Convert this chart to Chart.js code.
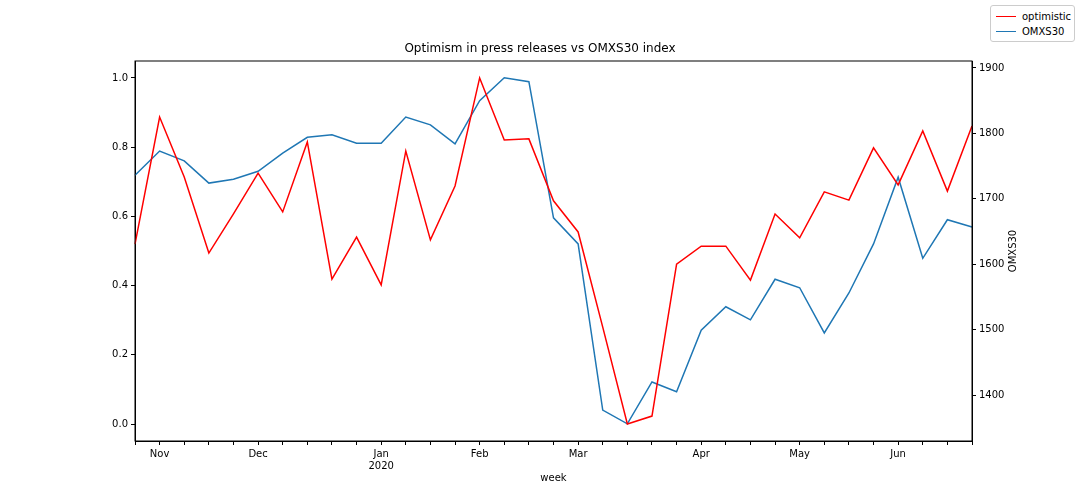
<!DOCTYPE html>
<html>
<head>
<meta charset="utf-8">
<script src="https://cdn.jsdelivr.net/npm/chart.js@4/dist/chart.umd.min.js"></script>
<style>
  body { margin: 0; background: #fff; font-family: "DejaVu Sans", sans-serif; }
  #wrap { position: relative; width: 1080px; height: 504px; }
  #legend { position: absolute; left: 990px; top: 5px; width: 83px; border: 1px solid #ccc; border-radius: 3px;
            background: #fff; font-size: 10px; padding: 3px 0 2px 0; }
  #legend div { display: flex; align-items: center; height: 15px; }
  #legend span.sw { display: inline-block; width: 20px; height: 0; border-top: 1.5px solid; margin: 0 6px 0 5px; }
</style>
</head>
<body>
<div id="wrap">
  <canvas id="chart" width="1080" height="504"></canvas>
  <div id="legend">
    <div><span class="sw" style="border-color:#ff0000"></span>optimistic</div>
    <div><span class="sw" style="border-color:#1f77b4"></span>OMXS30</div>
  </div>
</div>
<script>
// weekly points, month label on the first week of each month
const weeks = ['', 'Nov', '', '', '', 'Dec', '', '', '', '', 'Jan|2020', '', '', '', 'Feb', '', '', '',
    'Mar', '', '', '', '', 'Apr', '', '', '', 'May', '', '', '', 'Jun', '', '', ''];

const optimistic = [0.52, 0.887, 0.714, 0.494, 0.607, 0.725, 0.613, 0.815, 0.419, 0.54, 0.402, 0.789,
    0.532, 0.688, 1.0, 0.821, 0.824, 0.645, 0.555, 0.28, 0.0, 0.023, 0.462, 0.514, 0.514, 0.416,
    0.607, 0.538, 0.671, 0.647, 0.798, 0.691, 0.847, 0.673, 0.861];

const omxs30 = [1736, 1773, 1758, 1724, 1730, 1742, 1770, 1794, 1798, 1785, 1785, 1825, 1813, 1784,
    1850, 1885, 1879, 1671, 1631, 1377, 1356, 1420, 1405, 1499, 1535, 1515, 1577, 1564, 1495, 1556,
    1631, 1733, 1609, 1668, 1657];

const leftTicks = [0, 0.2, 0.4, 0.6, 0.8, 1.0];
const rightTicks = [1400, 1500, 1600, 1700, 1800, 1900];

Chart.defaults.font.family = '"DejaVu Sans", sans-serif';
Chart.defaults.color = '#000';

// top spine + axis titles placed like matplotlib
const frame = {
    id: 'frame',
    afterDraw(chart) {
        const a = chart.chartArea, ctx = chart.ctx;
        ctx.save();
        ctx.strokeStyle = '#000';
        ctx.lineWidth = 1;
        ctx.strokeRect(a.left, a.top, a.right - a.left, a.bottom - a.top);
        ctx.fillStyle = '#000';
        ctx.font = '10px "DejaVu Sans", sans-serif';
        ctx.textAlign = 'center';
        ctx.textBaseline = 'middle';
        ctx.fillText('week', (a.left + a.right) / 2, 478);
        ctx.translate(1013, (a.top + a.bottom) / 2);
        ctx.rotate(-Math.PI / 2);
        ctx.fillText('OMXS30', 0, 0);
        ctx.restore();
    }
};

const tickGrid = { drawOnChartArea: false, drawTicks: true, tickLength: 4, color: '#000' };

new Chart(document.getElementById('chart'), {
    type: 'line',
    data: {
        labels: weeks,
        datasets: [{
            label: 'optimistic',
            data: optimistic,
            borderColor: '#ff0000',
            borderWidth: 1.5,
            pointRadius: 0,
            tension: 0,
            yAxisID: 'y'
        }, {
            label: 'OMXS30',
            data: omxs30,
            borderColor: '#1f77b4',
            borderWidth: 1.5,
            pointRadius: 0,
            tension: 0,
            yAxisID: 'y1'
        }]
    },
    options: {
        responsive: false,
        animation: false,
        layout: { padding: 0 },
        plugins: {
            legend: { display: false },
            tooltip: { enabled: false },
            title: {
                display: true,
                text: 'Optimism in press releases vs OMXS30 index',
                font: { size: 12, weight: 'normal' },
                color: '#000',
                padding: { top: 42, bottom: 4.6 }
            }
        },
        scales: {
            x: {
                offset: false,
                grid: tickGrid,
                border: { color: '#000' },
                ticks: {
                    autoSkip: false, maxRotation: 0, font: { size: 10 },
                    callback: (v, i) => weeks[i].includes('|') ? weeks[i].split('|') : weeks[i]
                },
                afterFit: s => { s.height = 63; }
            },
            y: {
                position: 'left',
                min: -0.049, max: 1.049,
                grid: tickGrid,
                border: { color: '#000' },
                afterBuildTicks: s => { s.ticks = leftTicks.map(v => ({ value: v })); },
                ticks: { font: { size: 10 }, callback: v => v.toFixed(1) },
                afterFit: s => { s.width = 135; }
            },
            y1: {
                position: 'right',
                min: 1329.7, max: 1910.7,
                grid: tickGrid,
                border: { color: '#000' },
                afterBuildTicks: s => { s.ticks = rightTicks.map(v => ({ value: v })); },
                ticks: { font: { size: 10 }, callback: v => String(v) },
                afterFit: s => { s.width = 108; }
            }
        }
    },
    plugins: [frame]
});
</script>
</body>
</html>
